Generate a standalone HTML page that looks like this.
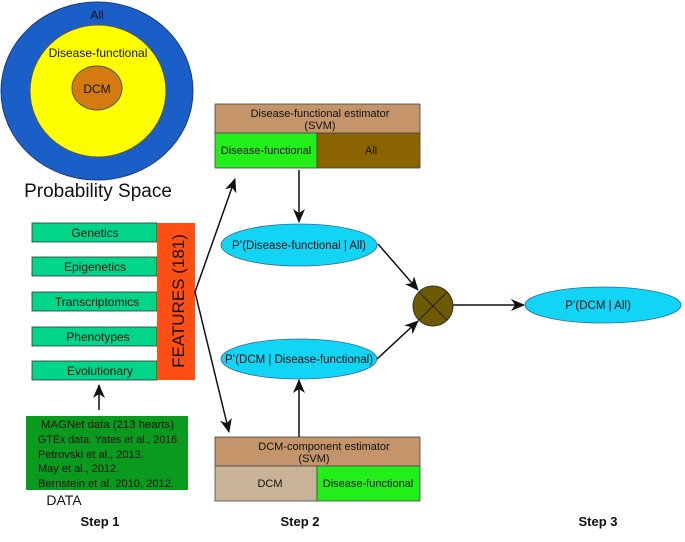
<!DOCTYPE html>
<html><head><style>body{margin:0;background:#fff}</style></head><body>
<svg width="685" height="537" viewBox="0 0 685 537" xmlns="http://www.w3.org/2000/svg" font-family="Liberation Sans, sans-serif">
<defs><marker id="a" markerWidth="14" markerHeight="12" refX="13" refY="6" orient="auto" markerUnits="userSpaceOnUse"><path d="M0,0 L14,6 L0,12 L4,6 Z" fill="#111"/></marker></defs>
<ellipse cx="97" cy="91" rx="96" ry="89" fill="#1a5fc8" stroke="#1c3a80"/>
<ellipse cx="98" cy="91" rx="68" ry="66" fill="#ffff00" stroke="#555"/>
<ellipse cx="97" cy="88" rx="25" ry="22" fill="#d47a10" stroke="#555"/>
<text x="97" y="19" font-size="12" text-anchor="middle" fill="#111">All</text>
<text x="98" y="57" font-size="12" text-anchor="middle" fill="#111">Disease-functional</text>
<text x="97" y="93" font-size="12" text-anchor="middle" fill="#111">DCM</text>
<text x="98" y="197" font-size="19" text-anchor="middle" fill="#111">Probability Space</text>
<g stroke="#333" stroke-width="0.8" fill="#00d68a">
<rect x="32" y="223" width="125" height="19"/><rect x="32" y="257" width="125" height="19"/><rect x="32" y="292" width="125" height="19"/><rect x="32" y="327" width="125" height="19"/><rect x="32" y="361" width="125" height="19"/></g>
<g font-size="12" text-anchor="middle" fill="#111"><text x="95" y="237">Genetics</text><text x="95" y="271">Epigenetics</text><text x="97" y="306">Transcriptomics</text><text x="98" y="341">Phenotypes</text><text x="100" y="375">Evolutionary</text></g>
<rect x="157" y="223" width="38" height="157" fill="#ff4f14"/>
<text transform="translate(184,301) rotate(-90)" font-size="17" text-anchor="middle" fill="#111">FEATURES (181)</text>
<line x1="99" y1="410" x2="99" y2="385" stroke="#111" stroke-width="1.5" marker-end="url(#a)"/>
<rect x="26" y="416" width="162" height="74" fill="#0a9a1e"/>
<g font-size="11" fill="#111"><text x="41" y="428" textLength="133" lengthAdjust="spacingAndGlyphs">MAGNet data (213 hearts)</text><text x="38" y="443" textLength="142" lengthAdjust="spacingAndGlyphs">GTEx data. Yates et al., 2016.</text><text x="38" y="458">Petrovski et al., 2013.</text><text x="38" y="472">May et al., 2012.</text><text x="38" y="487" textLength="136" lengthAdjust="spacingAndGlyphs">Bernstein et al. 2010, 2012.</text></g>
<text x="64" y="505" font-size="14" text-anchor="middle" fill="#111">DATA</text>
<g font-size="13" font-weight="bold" text-anchor="middle" fill="#111"><text x="100" y="526">Step 1</text><text x="300" y="526">Step 2</text><text x="598" y="526">Step 3</text></g>
<line x1="195" y1="292" x2="235" y2="179" stroke="#111" stroke-width="1.5" marker-end="url(#a)"/>
<line x1="195" y1="292" x2="229" y2="432" stroke="#111" stroke-width="1.5" marker-end="url(#a)"/>
<rect x="215" y="104" width="205" height="29" fill="#c4956a" stroke="#444" stroke-width="0.8"/>
<rect x="215" y="133" width="102" height="35" fill="#22ee1a" stroke="#444" stroke-width="0.8"/>
<rect x="317" y="133" width="103" height="35" fill="#8a6400" stroke="#444" stroke-width="0.8"/>
<g font-size="11" text-anchor="middle" fill="#111"><text x="320" y="117">Disease-functional estimator</text><text x="320" y="129">(SVM)</text><text x="266" y="154">Disease-functional</text><text x="371" y="154">All</text></g>
<rect x="215" y="437" width="205" height="29" fill="#c4956a" stroke="#444" stroke-width="0.8"/>
<rect x="215" y="466" width="102" height="35" fill="#c8b396" stroke="#444" stroke-width="0.8"/>
<rect x="317" y="466" width="103" height="35" fill="#22ee1a" stroke="#444" stroke-width="0.8"/>
<g font-size="11" text-anchor="middle" fill="#111"><text x="324" y="450">DCM-component estimator</text><text x="314" y="462">(SVM)</text><text x="270" y="487">DCM</text><text x="368" y="487">Disease-functional</text></g>
<line x1="299" y1="170" x2="299" y2="222" stroke="#111" stroke-width="1.5" marker-end="url(#a)"/>
<line x1="299" y1="437" x2="299" y2="380" stroke="#111" stroke-width="1.5" marker-end="url(#a)"/>
<ellipse cx="299" cy="245" rx="78" ry="21" fill="#12d4f5" stroke="#2a6c9a" stroke-width="0.8"/>
<ellipse cx="299" cy="359" rx="78" ry="20" fill="#12d4f5" stroke="#2a6c9a" stroke-width="0.8"/>
<ellipse cx="603" cy="305" rx="78" ry="18" fill="#12d4f5" stroke="#2a6c9a" stroke-width="0.8"/>
<g font-size="11.5" text-anchor="middle" fill="#111"><text x="299" y="249">P’(Disease-functional | All)</text><text x="299" y="363">P’(DCM | Disease-functional)</text><text x="598" y="309">P’(DCM | All)</text></g>
<line x1="378" y1="244" x2="418" y2="290" stroke="#111" stroke-width="1.5" marker-end="url(#a)"/>
<line x1="377" y1="359" x2="418" y2="321" stroke="#111" stroke-width="1.5" marker-end="url(#a)"/>
<line x1="453" y1="305" x2="524" y2="305" stroke="#111" stroke-width="1.5" marker-end="url(#a)"/>
<circle cx="433" cy="306" r="20" fill="#6e5a00" stroke="#333"/>
<line x1="419" y1="292" x2="447" y2="320" stroke="#222"/><line x1="447" y1="292" x2="419" y2="320" stroke="#222"/>
</svg>
</body></html>
